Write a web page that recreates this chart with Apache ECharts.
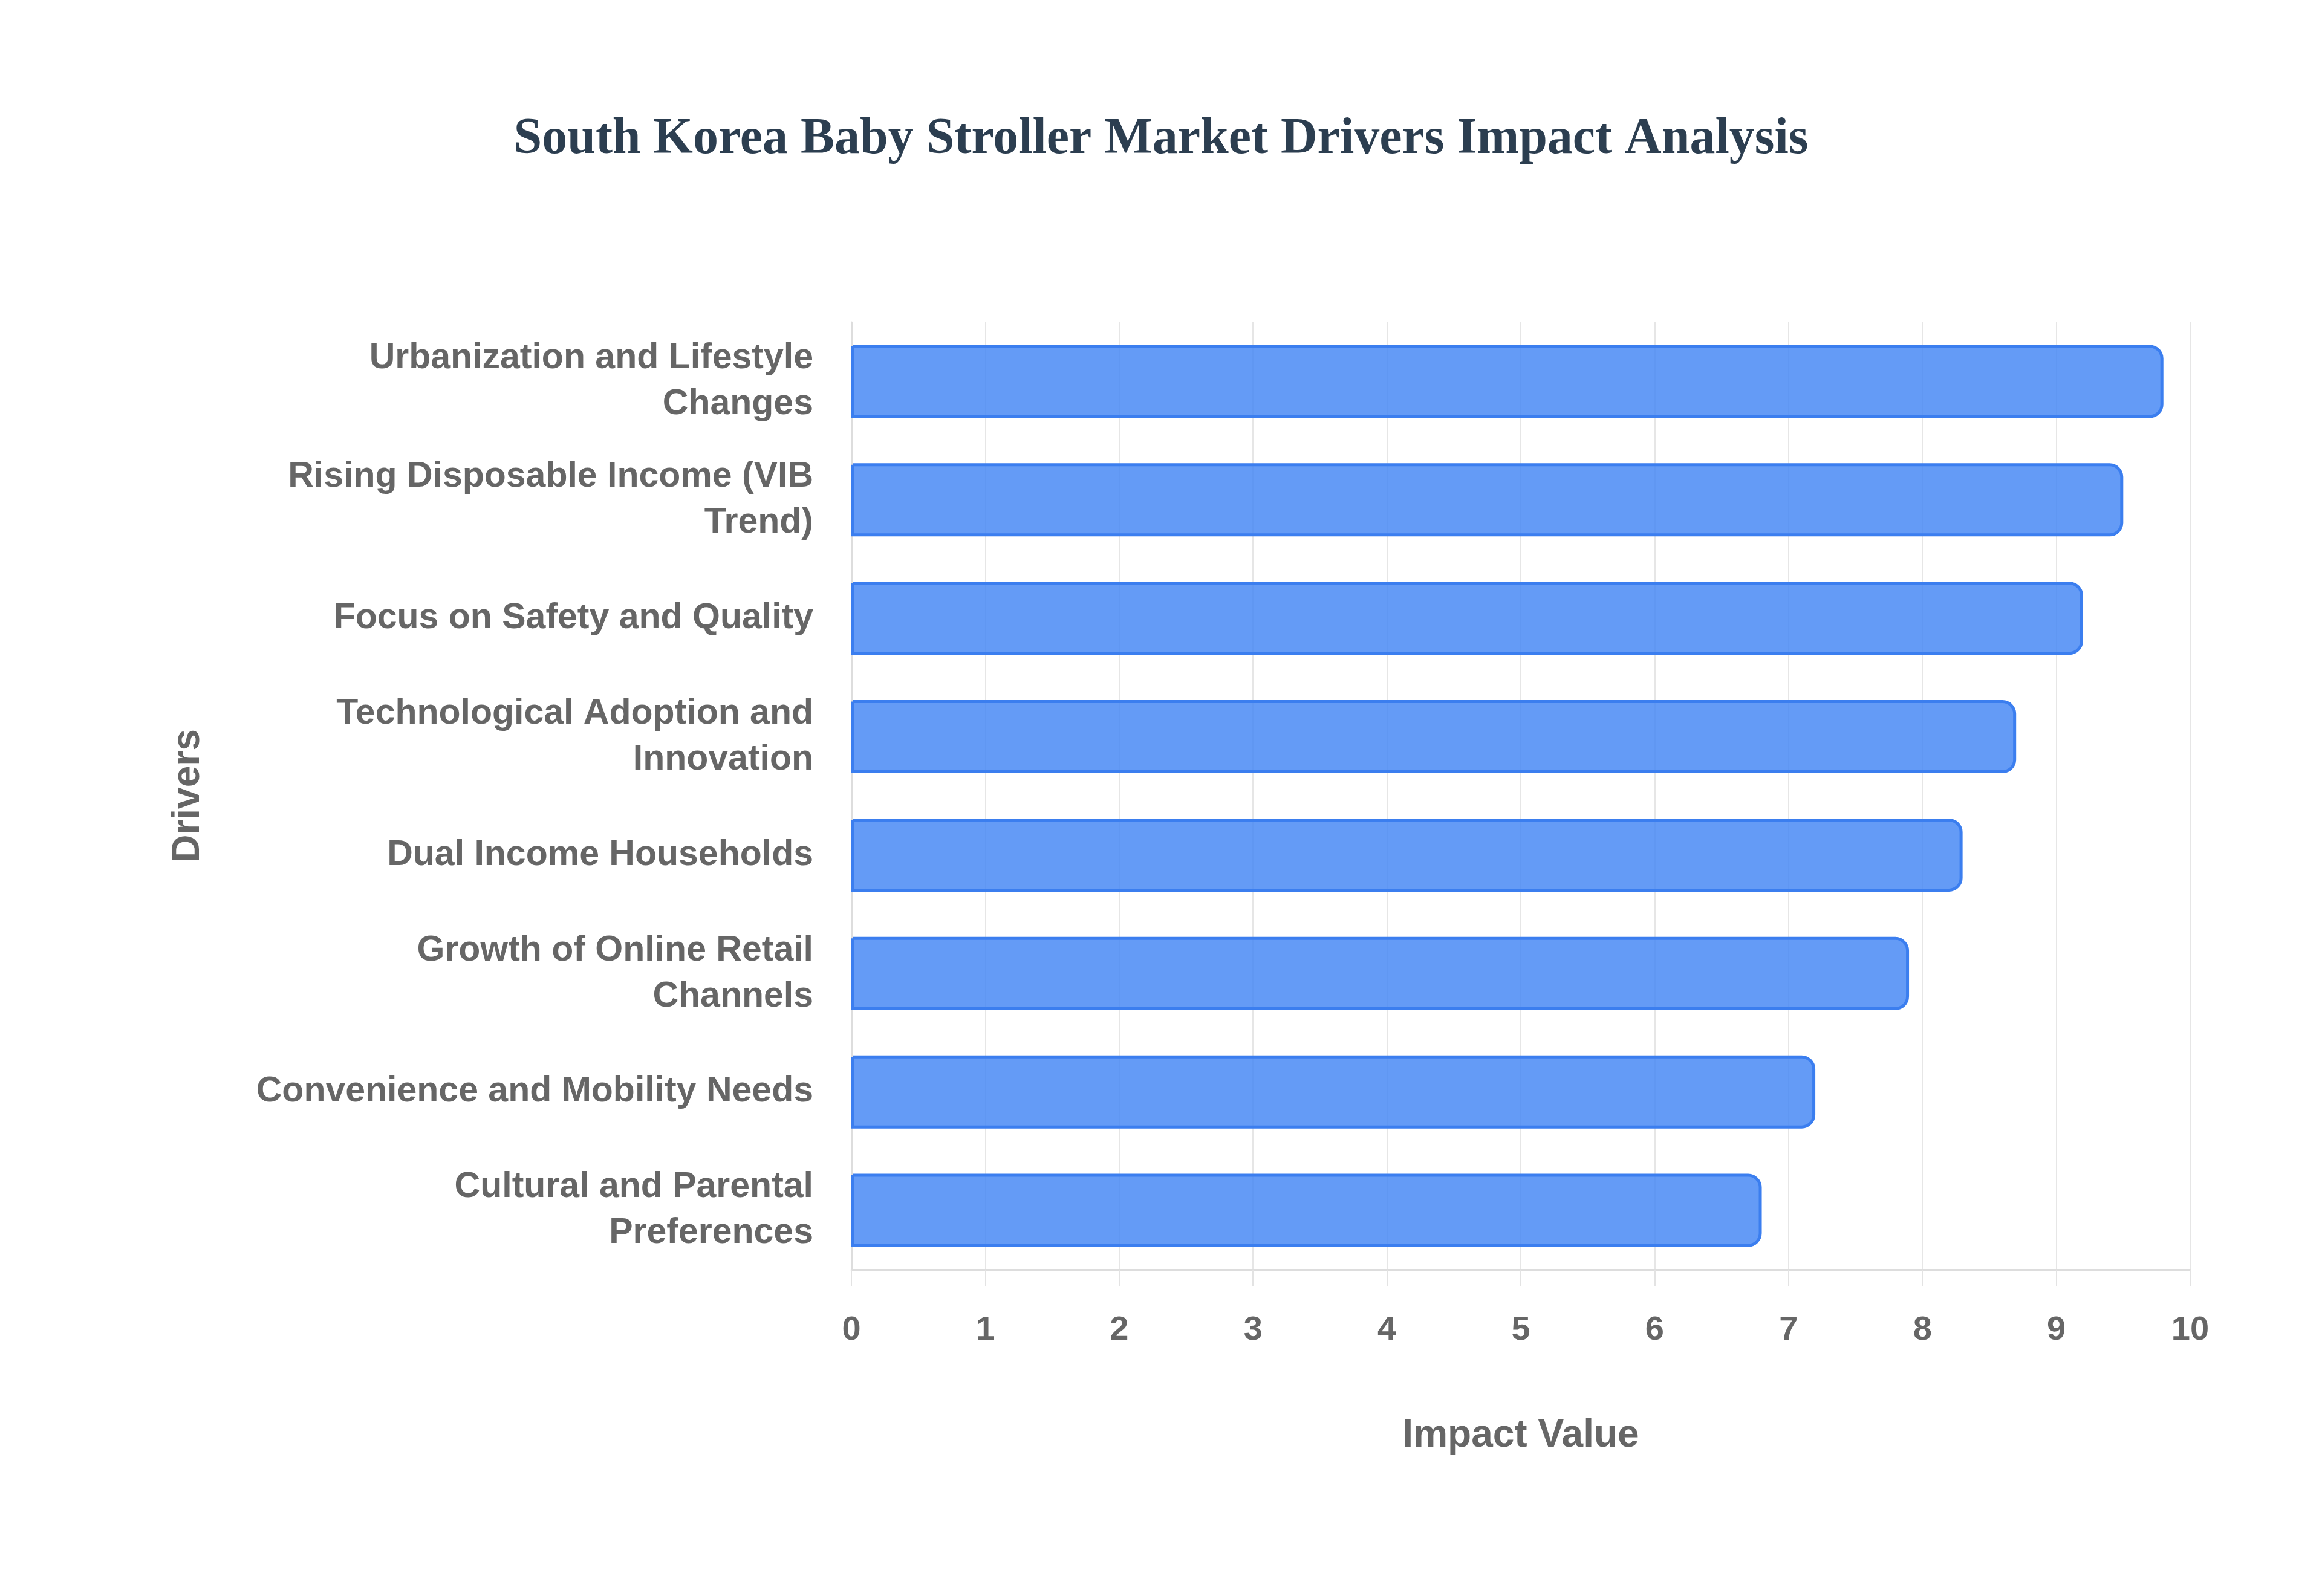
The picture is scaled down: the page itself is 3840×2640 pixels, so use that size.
<!DOCTYPE html>
<html>
<head>
<meta charset="utf-8">
<script src="https://cdn.jsdelivr.net/npm/echarts@6/dist/echarts.min.js"></script>
<style>
html,body{margin:0;padding:0;background:#fff;}
#chart{width:3840px;height:2640px;}
</style>
</head>
<body>
<div id="chart"></div>
<script>
const titleText = 'South Korea Baby Stroller Market Drivers Impact Analysis';
const categories = [
  'Urbanization and Lifestyle\nChanges',
  'Rising Disposable Income (VIB\nTrend)',
  'Focus on Safety and Quality',
  'Technological Adoption and\nInnovation',
  'Dual Income Households',
  'Growth of Online Retail\nChannels',
  'Convenience and Mobility Needs',
  'Cultural and Parental\nPreferences'
];
const impactValues = [9.8, 9.5, 9.2, 8.7, 8.3, 7.9, 7.2, 6.8];
const xAxisName = 'Impact Value';
const yAxisName = 'Drivers';

const chart = echarts.init(document.getElementById('chart'), null, {renderer: 'canvas'});
chart.setOption({
  backgroundColor: '#ffffff',
  animation: false,
  title: {
    text: titleText,
    left: 'center',
    top: 184,
    textStyle: {
      fontFamily: 'Liberation Serif',
      fontWeight: 'bold',
      fontSize: 84,
      color: '#2c3e50'
    }
  },
  grid: {left: 1408, right: 218, top: 533, bottom: 540, containLabel: false},
  xAxis: {
    type: 'value',
    min: 0,
    max: 10,
    interval: 1,
    name: xAxisName,
    nameLocation: 'middle',
    nameGap: 243,
    nameTextStyle: {fontFamily: 'Liberation Sans', fontWeight: 'bold', fontSize: 64, color: '#666666'},
    axisLine: {show: true, lineStyle: {color: '#dddddd', width: 3}},
    axisTick: {show: true, length: 28, lineStyle: {color: '#e3e3e3', width: 2}},
    axisLabel: {margin: 73, fontFamily: 'Liberation Sans', fontWeight: 'bold', fontSize: 56, color: '#666666'},
    splitLine: {show: true, lineStyle: {color: '#e6e6e6', width: 2}}
  },
  yAxis: {
    type: 'category',
    data: categories,
    inverse: true,
    name: yAxisName,
    nameLocation: 'middle',
    nameGap: 1065,
    nameRotate: 90,
    nameTextStyle: {fontFamily: 'Liberation Sans', fontWeight: 'bold', fontSize: 64, color: '#666666'},
    axisLine: {show: true, lineStyle: {color: '#dddddd', width: 3}},
    axisTick: {show: false},
    axisLabel: {margin: 63, fontFamily: 'Liberation Sans', fontWeight: 'bold', fontSize: 59, lineHeight: 76, color: '#666666', align: 'right'},
    splitLine: {show: false}
  },
  series: [{
    type: 'bar',
    data: impactValues,
    barWidth: 121,
    itemStyle: {
      color: 'rgba(66,133,244,0.82)',
      borderColor: '#3b7eef',
      borderWidth: 5,
      borderRadius: [0, 20, 20, 0]
    }
  }]
});
</script>
</body>
</html>
